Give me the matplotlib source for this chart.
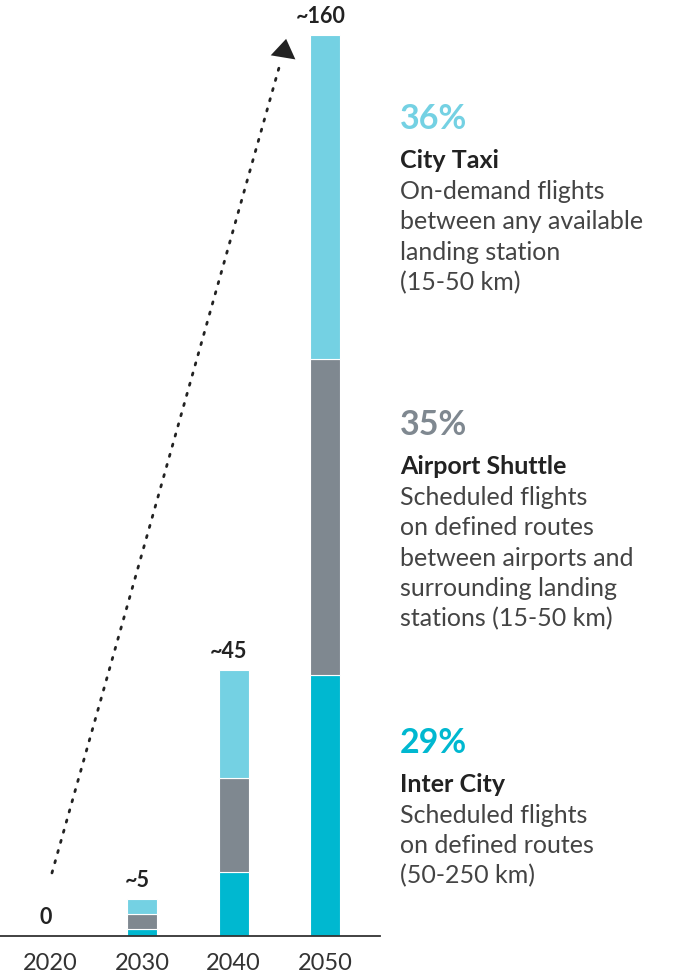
import matplotlib.pyplot as plt

years = ["2020", "2030", "2040", "2050"]
inter_city = [0, 1.2, 11.4, 46.4]
airport_shuttle = [0, 2.7, 16.7, 56.0]
city_taxi = [0, 2.7, 19.2, 57.6]
totals_lbl = ["0", "~5", "~45", "~160"]

shares = ["36%", "35%", "29%"]
names = ["City Taxi", "Airport Shuttle", "Inter City"]
descs = [
    ["On-demand flights", "between any available", "landing station", "(15-50 km)"],
    ["Scheduled flights", "on defined routes", "between airports and",
     "surrounding landing", "stations (15-50 km)"],
    ["Scheduled flights", "on defined routes", "(50-250 km)"],
]

c_taxi = "#74D1E3"
c_shuttle = "#7F8890"
c_inter = "#00B8D0"

plt.rcParams["font.family"] = ["Lato", "DejaVu Sans"]

W, H = 685, 976
fig = plt.figure(figsize=(W / 100, H / 100), dpi=100)
ax = fig.add_axes([0, 40 / H, 380 / W, 936 / H])

x = list(range(len(years)))
bw = 30 / 91.5
ax.bar(x, inter_city, bw, color=c_inter, edgecolor="white", linewidth=0.8)
ax.bar(x, airport_shuttle, bw, bottom=inter_city, color=c_shuttle,
       edgecolor="white", linewidth=0.8)
b3 = [a + b for a, b in zip(inter_city, airport_shuttle)]
ax.bar(x, city_taxi, bw, bottom=b3, color=c_taxi, edgecolor="white", linewidth=0.8)

tot = [a + b for a, b in zip(b3, city_taxi)]
for xi, t, lbl in zip(x, tot, totals_lbl):
    ax.text(xi - 0.05, t + 2.1, lbl, ha="center", va="baseline", fontsize=15.5,
            fontweight="bold", color="#222222")

ax.set_xlim(-50.5 / 91.5, (380 - 50.5) / 91.5)
ax.set_ylim(0, 160 * 936 / 901)

# dotted growth arrow
x0, y0 = 0.016, 11.2
x1, y1 = 2.52, 155.5
ax.plot([x0, x1], [y0, y1], linestyle=(0, (0.8, 3.0)), linewidth=2.0,
        color="#222222", dash_capstyle="round")
ax.annotate("", xy=(2.58, 159.8), xytext=(2.47, 149),
            arrowprops=dict(arrowstyle="-|>,head_length=0.45,head_width=0.3",
                            mutation_scale=30, color="#222222", lw=0))

for s in ["top", "right", "left"]:
    ax.spines[s].set_visible(False)
ax.spines["bottom"].set_color("#333333")
ax.spines["bottom"].set_linewidth(1.3)
ax.set_yticks([])
ax.set_xticks(x)
ax.set_xticklabels(years, fontsize=17, color="#333333")
ax.tick_params(axis="x", length=0, pad=12)

# right-side annotations
colors = [c_taxi, c_shuttle, c_inter]
base = [129, 435, 753]
for sh, nm, ds, col, b in zip(shares, names, descs, colors, base):
    fig.text(400 / W, 1 - b / H, sh, ha="left", va="baseline", fontsize=24.5,
             fontweight="bold", color=col)
    fig.text(400 / W, 1 - (b + 39) / H, nm, ha="left", va="baseline", fontsize=18,
             fontweight="bold", color="#222222")
    for i, line in enumerate(ds):
        fig.text(400 / W, 1 - (b + 70 + 30.3 * i) / H, line, ha="left",
                 va="baseline", fontsize=18, color="#444444")

fig.savefig("out.png", dpi=100, facecolor="white")
